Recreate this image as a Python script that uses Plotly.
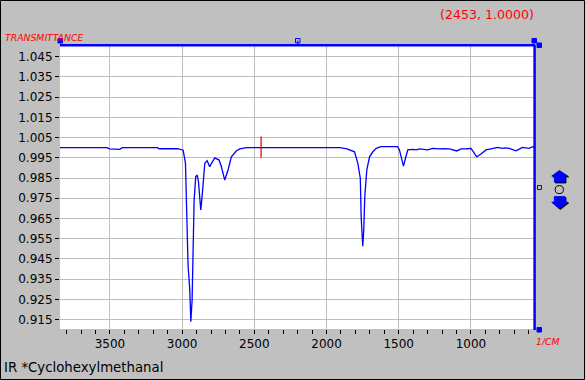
import plotly.graph_objects as go

# ---------------- data ----------------
wavenumber = [3846, 3520, 3505, 3479, 3432, 3415, 3395, 3380, 3170, 3160, 3030, 3001,
              2993, 2977, 2970, 2959, 2947, 2940, 2931, 2924, 2917, 2906, 2896, 2887,
              2878, 2871, 2862, 2855, 2843, 2827, 2809, 2797, 2774, 2744, 2728, 2705,
              2682, 2659, 2624, 2600, 2555, 2300, 2100, 1906, 1859, 1825, 1806, 1783,
              1766, 1760, 1753, 1749, 1742, 1735, 1721, 1702, 1679, 1656, 1624, 1507,
              1495, 1483, 1467, 1453, 1437, 1400, 1379, 1356, 1330, 1299, 1265, 1240,
              1218, 1190, 1149, 1098, 1068, 1030, 999, 976, 960, 930, 895, 861, 815,
              781, 760, 734, 688, 665, 642, 596, 573, 556]
transmittance = [1.0000, 1.0000, 0.9994, 0.9992, 0.9992, 1.0000, 1.0002, 1.0000, 1.0000, 0.9995, 0.9995, 0.9990,
                 0.9988, 0.9924, 0.9683, 0.9419, 0.9296, 0.9139, 0.9246, 0.9479, 0.9741, 0.9856, 0.9865, 0.9832,
                 0.9741, 0.9692, 0.9757, 0.9840, 0.9923, 0.9936, 0.9906, 0.9923, 0.9950, 0.9939, 0.9906, 0.9840,
                 0.9890, 0.9955, 0.9985, 0.9994, 1.0000, 1.0000, 1.0000, 1.0000, 0.9994, 0.9985, 0.9980, 0.9923,
                 0.9849, 0.9658, 0.9535, 0.9513, 0.9593, 0.9757, 0.9890, 0.9955, 0.9980, 0.9997, 1.0005, 1.0005,
                 0.9989, 0.9955, 0.9909, 0.9948, 0.9989, 0.9992, 0.9989, 0.9994, 0.9991, 0.9989, 0.9997, 0.9995,
                 0.9994, 0.9996, 0.9994, 0.9984, 0.9994, 0.9995, 0.9997, 0.9972, 0.9955, 0.9969, 0.9989, 0.9994, 1.0002,
                 0.9997, 0.9999, 0.9997, 0.9985, 0.9993, 1.0002, 0.9997, 1.0005, 1.0000]

y_ticks = [1.045, 1.035, 1.025, 1.015, 1.005, 0.995, 0.985, 0.975, 0.965, 0.955,
           0.945, 0.935, 0.925, 0.915]
x_ticks = [3500, 3000, 2500, 2000, 1500, 1000]
x_range = [3846, 556]
y_range = [0.91035, 1.0508]
cursor_x = 2453
cursor_y = 1.0
readout = "(%d, %.4f)" % (cursor_x, cursor_y)
title_text = "IR *Cyclohexylmethanal"
y_label = "TRANSMITTANCE"
x_label = "1/CM"

# ---------------- layout geometry ----------------
W, H = 585, 380
L, T, PW, PH = 60, 45, 475, 284
R = W - L - PW
B = H - T - PH
FONT = "DejaVu Sans"
BLUE = "#0000FF"


def px(x):
    return (x - L) / PW


def py(y):
    return (T + PH - y) / PH


fig = go.Figure()
fig.add_trace(go.Scatter(x=wavenumber, y=transmittance, mode="lines",
                         line=dict(color=BLUE, width=1.3), hoverinfo="skip",
                         showlegend=False))

shapes = []
# whole-image black border
shapes.append(dict(type="rect", xref="paper", yref="paper",
                   x0=px(0.5), x1=px(W - 0.5), y0=py(H - 0.5), y1=py(0.5),
                   line=dict(color="black", width=1), layer="above"))
# red cursor
shapes.append(dict(type="line", xref="x", yref="y", x0=cursor_x, x1=cursor_x,
                   y0=cursor_y - 0.005, y1=cursor_y + 0.0055,
                   line=dict(color="#FF0000", width=1.3)))
# blue top and right frame lines
shapes.append(dict(type="line", xref="paper", yref="paper", x0=px(60), x1=px(535),
                   y0=py(45.3), y1=py(45.3), line=dict(color=BLUE, width=2.5)))
shapes.append(dict(type="line", xref="paper", yref="paper", x0=px(534.6), x1=px(534.6),
                   y0=py(45), y1=py(330), line=dict(color=BLUE, width=2.5)))


def sq(x0, y0, x1, y1, fill=True, lw=1):
    return dict(type="rect", xref="paper", yref="paper", x0=px(x0), x1=px(x1),
                y0=py(y1), y1=py(y0), fillcolor=BLUE if fill else "rgba(0,0,0,0)",
                line=dict(color=BLUE, width=lw))


shapes.append(sq(58, 38.5, 62.5, 43))
shapes.append(sq(532, 38.5, 536.5, 43))
shapes.append(sq(537, 43, 541.5, 47.5))
shapes.append(sq(537, 327.5, 541.5, 332))
# open handles
shapes.append(sq(295.5, 38.5, 300, 42.8, fill=False, lw=1))
shapes.append(dict(type="line", xref="paper", yref="paper", x0=px(297.8), x1=px(297.8),
                   y0=py(40.5), y1=py(45), line=dict(color=BLUE, width=1)))
shapes.append(sq(537.5, 185.5, 541.5, 189.5, fill=False, lw=1))


def path(points, fill, line_color):
    d = "M " + " L ".join("%f,%f" % (px(a), py(b)) for a, b in points) + " Z"
    return dict(type="path", xref="paper", yref="paper", path=d,
                fillcolor=fill, line=dict(color=line_color, width=0.8))


up = [(559.3, 170.5), (567.7, 176), (565, 176), (565, 182), (554.3, 182), (554.3, 176), (551.7, 176)]
down = [(554.3, 196.5), (565, 196.5), (565, 202), (567.7, 202), (559.3, 208.5), (551.7, 202), (554.3, 202)]
shapes.append(path([(a + 1, b + 1) for a, b in up], "black", "black"))
shapes.append(path(up, BLUE, BLUE))
shapes.append(path([(a + 1, b + 1) for a, b in down], "black", "black"))
shapes.append(path(down, BLUE, BLUE))
shapes.append(dict(type="circle", xref="paper", yref="paper",
                   x0=px(555.2), x1=px(563.4), y0=py(193.6), y1=py(185.6),
                   line=dict(color="black", width=1)))

annotations = [
    dict(text="<i>" + y_label + "</i>", xref="paper", yref="paper",
         x=px(3), y=py(37), xanchor="left", yanchor="middle", showarrow=False,
         font=dict(family=FONT, size=9.3, color="#FF0000")),
    dict(text="<i>" + x_label + "</i>", xref="paper", yref="paper",
         x=px(533.5), y=py(341), xanchor="left", yanchor="middle", showarrow=False,
         font=dict(family=FONT, size=9.3, color="#FF0000")),
    dict(text=readout, xref="paper", yref="paper",
         x=px(536), y=py(15), xanchor="right", yanchor="middle", showarrow=False,
         font=dict(family=FONT, size=12.6, color="#FF0000")),
    dict(text=title_text, xref="paper", yref="paper",
         x=px(2), y=py(367), xanchor="left", yanchor="middle", showarrow=False,
         font=dict(family=FONT, size=13.3, color="black")),
]

fig.update_layout(
    width=W, height=H,
    margin=dict(l=L, r=R, t=T, b=B, pad=0),
    paper_bgcolor="#C0C0C0", plot_bgcolor="white",
    font=dict(family=FONT, size=12, color="black"),
    shapes=shapes, annotations=annotations,
    showlegend=False,
    xaxis=dict(range=x_range, tickvals=x_ticks, ticktext=[str(v) for v in x_ticks],
               showgrid=True, gridcolor="#BEBEBE", gridwidth=1, zeroline=False,
               showline=False, ticks="outside", ticklen=4, tickcolor="black",
               tickfont=dict(family=FONT, size=12, color="black"),
               minor=dict(dtick=100, tick0=0, ticks="outside", ticklen=4,
                          tickcolor="black", showgrid=False)),
    yaxis=dict(range=y_range, tickvals=y_ticks, ticktext=["%.3f" % v for v in y_ticks],
               showgrid=True, gridcolor="#BEBEBE", gridwidth=1, zeroline=False,
               showline=False, ticks="outside", ticklen=4, tickcolor="black",
               tickfont=dict(family=FONT, size=12, color="black")),
)

fig.write_html("out.html")
